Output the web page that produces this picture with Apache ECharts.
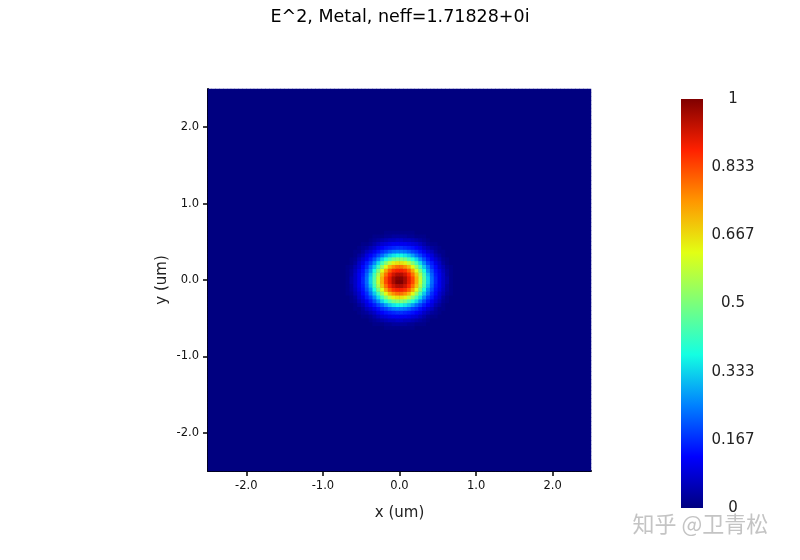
<!DOCTYPE html>
<html>
<head>
<meta charset="utf-8">
<script src="https://cdn.jsdelivr.net/npm/echarts@6/dist/echarts.min.js"></script>
<style>
html,body{margin:0;padding:0;background:#fff;}
#chart{width:800px;height:560px;}
</style>
</head>
<body>
<div id="chart"></div>
<script>
// ---- data ----
const titleText = 'E^2, Metal, neff=1.71828+0i';
const gridMin = -2.5;          // um
const gridMax = 2.5;           // um
const cellSize = 0.05;         // um, mesh step of the field
const xTicks = [-2, -1, 0, 1, 2];
const yTicks = [-2, -1, 0, 1, 2];
const colorbarTicks = [0, 0.167, 0.333, 0.5, 0.667, 0.833, 1];
const colorbarRange = [1];     // the colour bar spans the full 0..1 scale

// centres of the cells that carry a non-zero field (everything else reads 0)
const fieldX = [-0.675,-0.625,-0.575,-0.525,-0.475,-0.425,-0.375,-0.325,-0.275,-0.225,-0.175,-0.125,-0.075,-0.025,
                 0.025, 0.075, 0.125, 0.175, 0.225, 0.275, 0.325, 0.375, 0.425, 0.475, 0.525, 0.575, 0.625, 0.675];
const fieldY = [0.625,0.575,0.525,0.475,0.425,0.375,0.325,0.275,0.225,0.175,0.125,0.075,0.025,
                -0.025,-0.075,-0.125,-0.175,-0.225,-0.275,-0.325,-0.375,-0.425,-0.475,-0.525,-0.575,-0.625];
// |E|^2 (normalised), rows from top (y=+0.625) to bottom (y=-0.625)
const fieldRows = [
 [0,0,0,0,0,0,0,0,0,0,.01,.01,.01,.01,.01,.01,.01,.01,0,0,0,0,0,0,0,0,0,0],
 [0,0,0,0,0,0,0,.01,.01,.01,.02,.02,.03,.03,.03,.03,.02,.02,.01,.01,.01,0,0,0,0,0,0,0],
 [0,0,0,0,0,0,.01,.02,.03,.04,.05,.06,.06,.07,.07,.06,.06,.05,.04,.03,.02,.01,0,0,0,0,0,0],
 [0,0,0,0,.01,.01,.02,.04,.06,.08,.09,.10,.11,.11,.11,.11,.10,.09,.08,.06,.04,.02,.01,.01,0,0,0,0],
 [0,0,0,.01,.02,.03,.05,.07,.10,.12,.14,.15,.16,.17,.17,.16,.15,.14,.12,.10,.07,.05,.03,.02,.01,0,0,0],
 [0,0,.01,.01,.03,.06,.08,.11,.14,.17,.19,.22,.24,.25,.25,.24,.22,.19,.17,.14,.11,.08,.06,.03,.01,.01,0,0],
 [0,0,.01,.03,.05,.09,.12,.15,.19,.23,.28,.32,.35,.37,.37,.35,.32,.28,.23,.19,.15,.12,.09,.05,.03,.01,0,0],
 [0,.01,.02,.05,.08,.11,.15,.20,.26,.33,.39,.44,.49,.51,.51,.49,.44,.39,.33,.26,.20,.15,.11,.08,.05,.02,.01,0],
 [0,.01,.03,.07,.10,.15,.19,.26,.34,.43,.51,.58,.64,.66,.66,.64,.58,.51,.43,.34,.26,.19,.15,.10,.07,.03,.01,0],
 [.01,.02,.05,.08,.13,.17,.24,.32,.42,.53,.63,.71,.76,.79,.79,.76,.71,.63,.53,.42,.32,.24,.17,.13,.08,.05,.02,.01],
 [.01,.03,.06,.10,.14,.20,.27,.38,.50,.62,.73,.81,.86,.88,.88,.86,.81,.73,.62,.50,.38,.27,.20,.14,.10,.06,.03,.01],
 [.01,.03,.07,.11,.15,.22,.31,.43,.56,.69,.79,.87,.92,.95,.95,.92,.87,.79,.69,.56,.43,.31,.22,.15,.11,.07,.03,.01],
 [.01,.04,.07,.11,.16,.23,.33,.45,.59,.72,.83,.90,.96,.99,.99,.96,.90,.83,.72,.59,.45,.33,.23,.16,.11,.07,.04,.01],
 [.01,.04,.07,.11,.16,.23,.33,.45,.59,.72,.83,.90,.96,1.0,1.0,.96,.90,.83,.72,.59,.45,.33,.23,.16,.11,.07,.04,.01],
 [.01,.03,.07,.11,.15,.22,.31,.43,.56,.69,.79,.87,.92,.95,.95,.92,.87,.79,.69,.56,.43,.31,.22,.15,.11,.07,.03,.01],
 [.01,.03,.06,.10,.14,.20,.27,.38,.50,.62,.73,.81,.86,.88,.88,.86,.81,.73,.62,.50,.38,.27,.20,.14,.10,.06,.03,.01],
 [.01,.02,.05,.08,.13,.17,.24,.32,.42,.53,.63,.71,.76,.79,.79,.76,.71,.63,.53,.42,.32,.24,.17,.13,.08,.05,.02,.01],
 [0,.01,.03,.07,.10,.15,.19,.26,.34,.43,.51,.58,.64,.66,.66,.64,.58,.51,.43,.34,.26,.19,.15,.10,.07,.03,.01,0],
 [0,.01,.02,.05,.08,.11,.15,.20,.26,.33,.39,.44,.49,.51,.51,.49,.44,.39,.33,.26,.20,.15,.11,.08,.05,.02,.01,0],
 [0,0,.01,.03,.05,.09,.12,.15,.19,.23,.28,.32,.35,.37,.37,.35,.32,.28,.23,.19,.15,.12,.09,.05,.03,.01,0,0],
 [0,0,.01,.01,.03,.06,.08,.11,.14,.17,.19,.22,.24,.25,.25,.24,.22,.19,.17,.14,.11,.08,.06,.03,.01,.01,0,0],
 [0,0,0,.01,.02,.03,.05,.07,.10,.12,.14,.15,.16,.17,.17,.16,.15,.14,.12,.10,.07,.05,.03,.02,.01,0,0,0],
 [0,0,0,0,.01,.01,.02,.04,.06,.08,.09,.10,.11,.11,.11,.11,.10,.09,.08,.06,.04,.02,.01,.01,0,0,0,0],
 [0,0,0,0,0,0,.01,.02,.03,.04,.05,.06,.06,.07,.07,.06,.06,.05,.04,.03,.02,.01,0,0,0,0,0,0],
 [0,0,0,0,0,0,0,.01,.01,.01,.02,.02,.03,.03,.03,.03,.02,.02,.01,.01,.01,0,0,0,0,0,0,0],
 [0,0,0,0,0,0,0,0,0,0,.01,.01,.01,.01,.01,.01,.01,.01,0,0,0,0,0,0,0,0,0,0]
];
const jetColors = ['#000080','#0000ff','#0080ff','#14ffe2','#7bff7b','#e2ff14','#ff9700','#ff2100','#800000'];

// ---- build the heatmap table ----
const nCells = Math.round((gridMax - gridMin) / cellSize);
const cats = [];
for (let i = 0; i < nCells; i++) cats.push((gridMin + cellSize * (i + 0.5)).toFixed(3));
const toIndex = v => Math.round((v - gridMin) / cellSize - 0.5);
const grid2d = [];
for (let yi = 0; yi < nCells; yi++) { grid2d.push(new Array(nCells).fill(0)); }
fieldRows.forEach((row, r) => {
  const yi = toIndex(fieldY[r]);
  row.forEach((v, c) => { grid2d[yi][toIndex(fieldX[c])] = v; });
});
const heatData = [];
for (let yi = 0; yi < nCells; yi++)
  for (let xi = 0; xi < nCells; xi++) heatData.push([xi, yi, grid2d[yi][xi]]);

// colour-bar gradient (bottom = 0 -> top = 1)
const cbStops = jetColors.map((c, i) => ({offset: 1 - i / (jetColors.length - 1), color: c}));

const axisFont = 'DejaVu Sans';
const chart = echarts.init(document.getElementById('chart'), null, {renderer: 'canvas'});
chart.setOption({
  animation: false,
  backgroundColor: '#ffffff',
  title: {
    text: titleText, left: 'center', top: 3,
    textStyle: {fontFamily: axisFont, fontSize: 17.5, fontWeight: 'normal', color: '#000'}
  },
  grid: [
    {left: 208, top: 89, width: 383, height: 382, show: true, backgroundColor: '#000080', borderWidth: 0},
    {left: 681, top: 99, width: 22, height: 409}
  ],
  xAxis: [
    {type: 'category', data: cats, gridIndex: 0, show: false},
    {type: 'value', gridIndex: 0, min: gridMin, max: gridMax, position: 'bottom',
     axisLine: {show: true, onZero: false, lineStyle: {color: '#000', width: 2}},
     axisTick: {show: true, customValues: xTicks, length: 5, lineStyle: {color: '#000', width: 1.5}},
     axisLabel: {customValues: xTicks, formatter: v => v.toFixed(1), fontFamily: axisFont, fontSize: 11.5, color: '#111', margin: 9},
     splitLine: {show: false},
     name: 'x (um)', nameLocation: 'middle', nameGap: 35,
     nameTextStyle: {fontFamily: axisFont, fontSize: 15, color: '#222'}},
    {type: 'category', gridIndex: 1, show: false, data: ['bar']}
  ],
  yAxis: [
    {type: 'category', data: cats, gridIndex: 0, show: false},
    {type: 'value', gridIndex: 0, min: gridMin, max: gridMax, position: 'left',
     axisLine: {show: true, onZero: false, lineStyle: {color: '#000', width: 2}},
     axisTick: {show: true, customValues: yTicks, length: 5, lineStyle: {color: '#000', width: 1.5}},
     axisLabel: {customValues: yTicks, formatter: v => v.toFixed(1), fontFamily: axisFont, fontSize: 11.5, color: '#111', margin: 9},
     splitLine: {show: false},
     name: 'y (um)', nameLocation: 'middle', nameGap: 38, nameRotate: 90,
     nameTextStyle: {fontFamily: axisFont, fontSize: 15, color: '#222'}},
    {type: 'value', gridIndex: 1, min: 0, max: 1, position: 'right',
     axisLine: {show: false}, axisTick: {show: false}, splitLine: {show: false},
     axisLabel: {customValues: colorbarTicks, formatter: v => String(v), align: 'center', margin: 30,
                 fontFamily: axisFont, fontSize: 15, color: '#222'}}
  ],
  visualMap: {
    type: 'continuous', min: 0, max: 1, show: false, seriesIndex: 0,
    inRange: {color: jetColors}
  },
  series: [{
    type: 'heatmap', xAxisIndex: 0, yAxisIndex: 0, data: heatData,
    progressive: 0, emphasis: {disabled: true}, silent: true,
    itemStyle: {borderWidth: 0}
  }, {
    type: 'bar', xAxisIndex: 2, yAxisIndex: 2, data: colorbarRange, barWidth: '100%', silent: true,
    itemStyle: {borderRadius: 0, color: new echarts.graphic.LinearGradient(0, 0, 0, 1, cbStops)}
  }],
  graphic: [{
    type: 'text', left: 632, top: 512,
    style: {text: '知乎 @卫青松', fontFamily: 'Noto Sans CJK SC', fontSize: 22,
            fill: '#c4c4c4', stroke: '#ffffff', lineWidth: 1}
  }]
});
</script>
</body>
</html>
